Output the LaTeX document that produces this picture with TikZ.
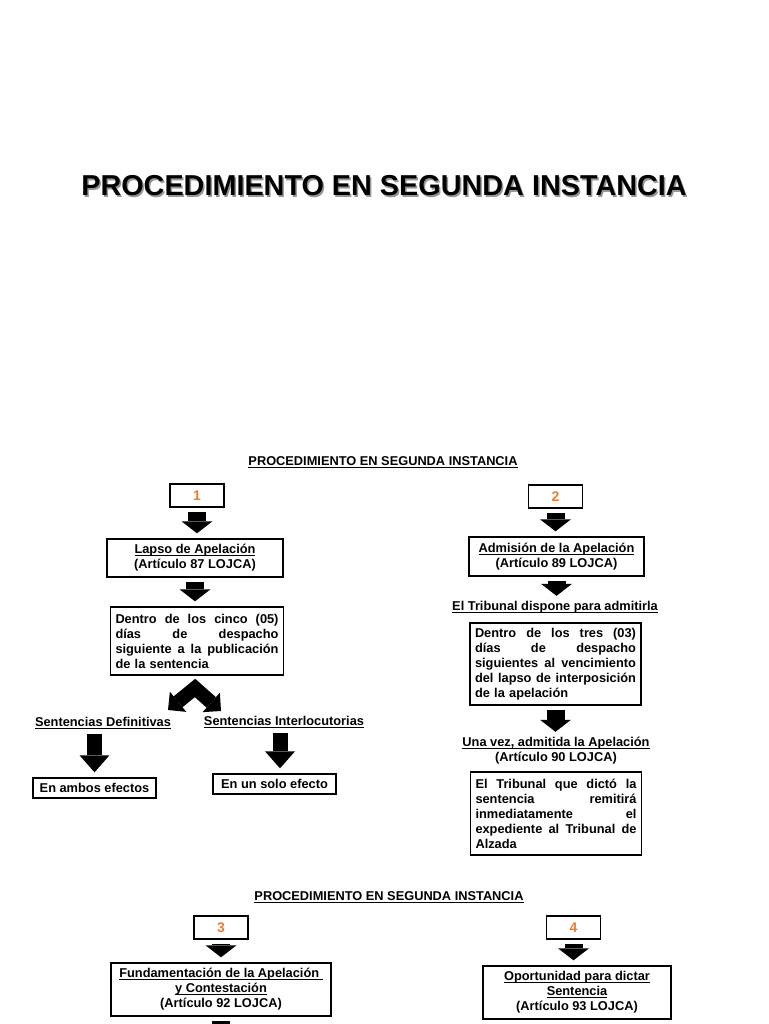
\documentclass[tikz,border=0pt]{standalone}
\usepackage{fontspec}
\setmainfont{Liberation Sans}
\usetikzlibrary{arrows.meta, positioning, calc}
\definecolor{numorange}{RGB}{237,125,49}
\definecolor{shadowgray}{RGB}{150,150,150}
\newcommand{\ulbox}[1]{\setbox0\hbox{#1}\rlap{\rule[-2.4pt]{\wd0}{0.9pt}}\box0}
\newcommand{\jline}[2]{\leavevmode\hbox to #1{\spaceskip=0.28em plus 1fil\relax #2}}
\tikzset{
  box/.style={draw, line width=1.4pt, inner sep=0pt, align=center, font=\bfseries\fontsize{12.8}{15}\selectfont},
  numbox/.style={box, minimum width=54pt, minimum height=23pt, text=numorange, font=\bfseries\fontsize{14}{15}\selectfont},
  txtbox/.style={box, align=left, inner xsep=5pt, inner ysep=3pt},
  plain/.style={inner sep=0pt, align=center, font=\bfseries\fontsize{12.8}{15}\selectfont},
  bigarrow/.style={line width=18pt, shorten <=4pt, shorten >=5pt, -{Triangle[width=31pt,length=12pt,line width=0pt]}},
  longarrow/.style={line width=15pt, shorten <=5pt, shorten >=5pt, -{Triangle[width=30pt,length=17pt,line width=0pt]}},
  splitarrow/.style={line width=14pt, miter limit=4, {Triangle[width=26pt,length=13pt,line width=0pt]}-{Triangle[width=26pt,length=13pt,line width=0pt]}}
}

\begin{document}
\begin{tikzpicture}[x=1pt, y=-1pt]
        \clip (0,0) rectangle (768,1024);
        \fill[white] (0,0) rectangle (768,1024);

        % titulo
        \node[font=\bfseries\fontsize{28.8}{32}\selectfont, text=shadowgray] (titleshadow) at (385.5,187.5) {PROCEDIMIENTO EN SEGUNDA INSTANCIA};
        \node[font=\bfseries\fontsize{28.8}{32}\selectfont] (title) at (384,186) {PROCEDIMIENTO EN SEGUNDA INSTANCIA};

        \node[plain] (subtitle1) at (383,462) {\ulbox{PROCEDIMIENTO EN SEGUNDA INSTANCIA}};

        % columna 1
        \node[numbox] (num1) at (197,495.5) {1};
        \node[box, minimum width=176pt, minimum height=38pt] (lapso) at (195,558) {\ulbox{Lapso de Apelación}\\(Artículo 87 LOJCA)};
        \node[txtbox, text width=163pt, minimum height=68pt] (dentro1) at (197,641)
            {\jline{163pt}{Dentro de los cinco (05)}\\ \jline{163pt}{días de despacho}\\ \jline{163pt}{siguiente a la publicación}\\ de la sentencia};
        \node[plain] (defin) at (103,723) {\ulbox{Sentencias Definitivas}};
        \node[plain] (interl) at (284,722) {\ulbox{Sentencias Interlocutorias}};
        \node[box, minimum width=123pt, minimum height=20pt] (ambos) at (94.5,788) {En ambos efectos};
        \node[box, minimum width=123pt, minimum height=20pt] (solo) at (274.5,784) {En un solo efecto};

        \coordinate (splittop) at (195,688);
        \coordinate (splitL) at (168,710);
        \coordinate (splitR) at (221,711);

        \draw[bigarrow] (num1.south) -- (num1.south |- lapso.north);
        \draw[bigarrow] (lapso.south) -- (lapso.south |- dentro1.north);
        \draw[splitarrow] (splitL) -- (splittop) -- (splitR);
        \draw[longarrow] (ambos.north |- defin.south) -- (ambos.north);
        \draw[longarrow] ($(interl.south)+(-4,0)$) -- ($(interl.south |- solo.north)+(-4,0)$);

        % columna 2
        \node[numbox] (num2) at (555.5,496.5) {2};
        \node[box, minimum width=175pt, minimum height=39pt] (admision) at (556.5,556.5) {\ulbox{Admisión de la Apelación}\\(Artículo 89 LOJCA)};
        \node[plain] (dispone) at (555,607) {\ulbox{El Tribunal dispone para admitirla}};
        \node[txtbox, text width=161pt, minimum height=82pt] (dentro2) at (555.5,664)
            {\jline{161pt}{Dentro de los tres (03)}\\ \jline{161pt}{días de despacho}\\ \jline{161pt}{siguientes al vencimiento}\\ \jline{161pt}{del lapso de interposición}\\ de la apelación};
        \node[plain] (unavez) at (556,750.5) {\ulbox{Una vez, admitida la Apelación}\\(Artículo 90 LOJCA)};
        \node[txtbox, text width=161pt, minimum height=83pt] (remitir) at (556,813.5)
            {\jline{161pt}{El Tribunal que dictó la}\\ \jline{161pt}{sentencia remitirá}\\ \jline{161pt}{inmediatamente el}\\ \jline{161pt}{expediente al Tribunal de}\\ Alzada};

        \draw[bigarrow] (num2.south) -- (num2.south |- admision.north);
        \draw[bigarrow] (admision.south) -- (admision.south |- dispone.north);
        \draw[bigarrow] (dentro2.south) -- (dentro2.south |- unavez.north);

        % segunda parte
        \node[plain] (subtitle2) at (389,897) {\ulbox{PROCEDIMIENTO EN SEGUNDA INSTANCIA}};
        \node[numbox] (num3) at (221,927.5) {3};
        \node[box, minimum width=220pt, minimum height=53pt] (fundam) at (221,989.5)
            {\ulbox{Fundamentación de la Apelación }\\\ulbox{y Contestación}\\(Artículo 92 LOJCA)};
        \node[numbox] (num4) at (573.5,927.5) {4};
        \node[box, minimum width=188pt, minimum height=53pt] (oport) at (577,992.5)
            {\ulbox{Oportunidad para dictar}\\\ulbox{Sentencia}\\(Artículo 93 LOJCA)};
        \coordinate (fundamnext) at (221,1050);

        \draw[bigarrow] (num3.south) -- (num3.south |- fundam.north);
        \draw[bigarrow] (num4.south) -- (num4.south |- oport.north);
        \draw[bigarrow] (fundam.south) -- (fundamnext);
\end{tikzpicture}
\end{document}
